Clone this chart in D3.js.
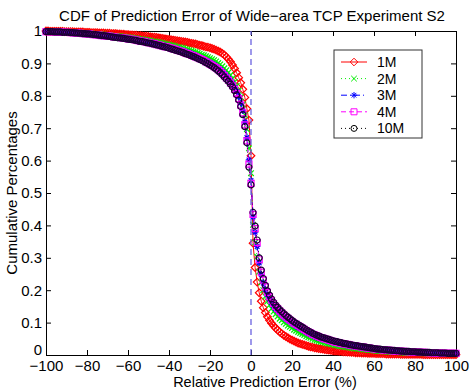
<!DOCTYPE html>
<html><head><meta charset="utf-8">
<script src="https://cdn.jsdelivr.net/npm/d3@7/dist/d3.min.js"></script>
<style>html,body{margin:0;padding:0;background:#fff;} text{font-family:"Liberation Sans",Arial,Helvetica,sans-serif;}</style>
</head><body><svg id="chart" width="474" height="392"></svg>
<script>
const titleText = "CDF of Prediction Error of Wide\u2212area TCP Experiment S2";
const xLabel = "Relative Prediction Error (%)";
const yLabel = "Cumulative Percentages";
const seriesNames = ["1M","2M","3M","4M","10M"];
const xTicks = [-100,-80,-60,-40,-20,0,20,40,60,80,100];
const yTicks = [0,0.1,0.2,0.3,0.4,0.5,0.6,0.7,0.8,0.9,1];
const yTickLabels = ["0","0.1","0.2","0.3","0.4","0.5","0.6","0.7","0.8","0.9","1"];
const xs = [-100,-99,-98,-97,-96,-95,-94,-93,-92,-91,-90,-89,-88,-87,-86,-85,-84,-83,-82,-81,
-80,-79,-78,-77,-76,-75,-74,-73,-72,-71,-70,-69,-68,-67,-66,-65,-64,-63,-62,-61,
-60,-59,-58,-57,-56,-55,-54,-53,-52,-51,-50,-49,-48,-47,-46,-45,-44,-43,-42,-41,
-40,-39,-38,-37,-36,-35,-34,-33,-32,-31,-30,-29,-28,-27,-26,-25,-24,-23,-22,-21,
-20,-19,-18,-17,-16,-15,-14,-13,-12,-11,-10,-9,-8,-7,-6,-5,-4,-3,-2,-1,0,
1,2,3,4,5,6,7,8,9,10,11,12,13,14,15,16,17,18,19,20,21,22,23,24,25,26,27,28,29,30,
31,32,33,34,35,36,37,38,39,40,41,42,43,44,45,46,47,48,49,50,51,52,53,54,55,56,57,58,59,60,
61,62,63,64,65,66,67,68,69,70,71,72,73,74,75,76,77,78,79,80,81,82,83,84,85,86,87,88,89,90,
91,92,93,94,95,96,97,98,99,100];
const s1M = [1.000,1.000,0.999,0.999,0.999,0.999,0.999,0.999,0.999,0.998,
0.998,0.998,0.998,0.998,0.997,0.997,0.997,0.997,0.997,0.996,
0.996,0.996,0.995,0.995,0.995,0.995,0.994,0.994,0.994,0.993,
0.993,0.993,0.992,0.992,0.992,0.991,0.991,0.990,0.990,0.989,
0.989,0.988,0.988,0.987,0.987,0.986,0.986,0.985,0.984,0.984,
0.983,0.982,0.981,0.981,0.980,0.979,0.978,0.977,0.976,0.975,
0.974,0.973,0.972,0.971,0.970,0.969,0.968,0.967,0.966,0.965,
0.963,0.962,0.961,0.960,0.958,0.956,0.955,0.953,0.951,0.950,
0.948,0.946,0.944,0.941,0.938,0.935,0.931,0.926,0.920,0.913,
0.905,0.895,0.884,0.871,0.856,0.840,0.820,0.795,0.760,0.725,
0.615,
0.345,0.270,0.225,0.192,0.166,0.146,0.131,0.118,0.107,0.098,
0.090,0.083,0.077,0.071,0.066,0.061,0.057,0.053,0.049,0.046,
0.043,0.040,0.037,0.035,0.033,0.031,0.029,0.027,0.025,0.024,
0.022,0.021,0.020,0.019,0.018,0.017,0.016,0.015,0.014,0.013,
0.012,0.012,0.011,0.011,0.010,0.010,0.009,0.009,0.008,0.008,
0.007,0.007,0.007,0.006,0.006,0.006,0.005,0.005,0.005,0.005,
0.004,0.004,0.004,0.004,0.004,0.003,0.003,0.003,0.003,0.003,
0.003,0.003,0.002,0.002,0.002,0.002,0.002,0.002,0.002,0.002,
0.002,0.002,0.002,0.001,0.001,0.001,0.001,0.001,0.001,0.001,
0.001,0.001,0.001,0.001,0.001,0.001,0.001,0.001,0.001,0.001];
const s2M = [0.999,0.999,0.998,0.998,0.998,0.998,0.998,0.998,0.997,0.997,
0.997,0.997,0.996,0.996,0.995,0.995,0.995,0.995,0.994,0.994,
0.993,0.993,0.992,0.991,0.991,0.991,0.990,0.989,0.989,0.988,
0.988,0.987,0.986,0.985,0.985,0.984,0.984,0.983,0.982,0.981,
0.981,0.980,0.979,0.978,0.977,0.976,0.975,0.974,0.973,0.972,
0.971,0.970,0.968,0.968,0.966,0.965,0.964,0.962,0.961,0.959,
0.958,0.956,0.955,0.953,0.951,0.950,0.948,0.947,0.944,0.943,
0.941,0.939,0.937,0.935,0.932,0.930,0.927,0.925,0.922,0.919,
0.916,0.913,0.910,0.906,0.901,0.897,0.891,0.885,0.879,0.872,
0.864,0.854,0.843,0.830,0.815,0.796,0.773,0.741,0.697,0.638,
0.561,
0.402,0.347,0.303,0.257,0.224,0.200,0.181,0.166,0.154,0.143,
0.134,0.126,0.119,0.112,0.107,0.101,0.096,0.091,0.087,0.083,
0.078,0.075,0.071,0.068,0.065,0.062,0.058,0.055,0.053,0.050,
0.047,0.045,0.043,0.041,0.040,0.038,0.036,0.035,0.033,0.032,
0.030,0.029,0.028,0.027,0.026,0.025,0.024,0.023,0.022,0.021,
0.020,0.020,0.019,0.018,0.017,0.017,0.016,0.015,0.015,0.014,
0.013,0.012,0.012,0.012,0.011,0.011,0.010,0.010,0.010,0.010,
0.009,0.009,0.008,0.008,0.007,0.007,0.007,0.007,0.007,0.007,
0.006,0.006,0.006,0.005,0.005,0.005,0.005,0.005,0.005,0.005,
0.005,0.004,0.004,0.004,0.004,0.004,0.004,0.003,0.003,0.003];
const s3M = [0.998,0.998,0.998,0.998,0.997,0.997,0.997,0.997,0.996,0.996,
0.996,0.996,0.995,0.995,0.994,0.994,0.994,0.994,0.993,0.993,
0.992,0.992,0.991,0.990,0.990,0.989,0.988,0.987,0.987,0.986,
0.985,0.984,0.983,0.983,0.982,0.981,0.981,0.980,0.979,0.978,
0.977,0.976,0.975,0.974,0.973,0.972,0.971,0.970,0.969,0.967,
0.966,0.965,0.963,0.962,0.960,0.959,0.958,0.956,0.955,0.953,
0.951,0.949,0.947,0.945,0.944,0.942,0.940,0.938,0.935,0.934,
0.932,0.929,0.927,0.924,0.921,0.919,0.916,0.913,0.909,0.907,
0.903,0.899,0.896,0.891,0.886,0.881,0.875,0.868,0.861,0.854,
0.846,0.837,0.826,0.813,0.797,0.778,0.754,0.719,0.671,0.602,
0.539,
0.426,0.379,0.335,0.284,0.248,0.222,0.202,0.186,0.173,0.162,
0.152,0.143,0.137,0.130,0.124,0.118,0.112,0.107,0.103,0.098,
0.093,0.089,0.085,0.082,0.078,0.074,0.071,0.067,0.064,0.061,
0.058,0.055,0.053,0.050,0.049,0.047,0.045,0.043,0.041,0.039,
0.038,0.037,0.035,0.034,0.032,0.031,0.030,0.029,0.028,0.027,
0.026,0.025,0.024,0.023,0.022,0.021,0.020,0.019,0.019,0.018,
0.017,0.016,0.016,0.015,0.014,0.014,0.013,0.013,0.012,0.012,
0.011,0.011,0.011,0.010,0.010,0.010,0.009,0.009,0.009,0.009,
0.008,0.008,0.008,0.007,0.007,0.007,0.007,0.006,0.006,0.006,
0.006,0.005,0.005,0.005,0.005,0.005,0.004,0.004,0.004,0.004];
const s4M = [0.998,0.998,0.998,0.998,0.997,0.997,0.997,0.997,0.996,0.996,
0.996,0.996,0.995,0.995,0.994,0.994,0.993,0.993,0.992,0.992,
0.991,0.991,0.990,0.989,0.989,0.988,0.987,0.986,0.986,0.985,
0.985,0.984,0.983,0.982,0.981,0.980,0.980,0.979,0.978,0.977,
0.976,0.975,0.974,0.973,0.972,0.970,0.969,0.968,0.967,0.965,
0.964,0.963,0.961,0.960,0.958,0.957,0.955,0.953,0.952,0.951,
0.949,0.947,0.945,0.943,0.941,0.939,0.937,0.935,0.932,0.930,
0.928,0.925,0.923,0.920,0.918,0.915,0.912,0.909,0.905,0.902,
0.898,0.894,0.890,0.886,0.881,0.875,0.869,0.862,0.855,0.848,
0.840,0.831,0.820,0.807,0.791,0.771,0.747,0.710,0.661,0.589,
0.530,
0.434,0.390,0.347,0.294,0.256,0.231,0.210,0.193,0.180,0.169,
0.159,0.150,0.143,0.136,0.130,0.124,0.118,0.113,0.108,0.103,
0.098,0.095,0.091,0.087,0.083,0.079,0.075,0.071,0.068,0.064,
0.062,0.059,0.057,0.054,0.052,0.050,0.048,0.046,0.044,0.042,
0.040,0.039,0.037,0.036,0.034,0.034,0.033,0.031,0.030,0.029,
0.028,0.027,0.026,0.025,0.024,0.023,0.022,0.021,0.020,0.019,
0.018,0.017,0.017,0.016,0.015,0.015,0.014,0.014,0.013,0.013,
0.012,0.012,0.011,0.011,0.011,0.010,0.010,0.010,0.009,0.009,
0.009,0.008,0.008,0.008,0.008,0.007,0.007,0.007,0.007,0.006,
0.006,0.006,0.006,0.006,0.005,0.005,0.005,0.005,0.005,0.005];
const s10M = [0.998,0.998,0.998,0.998,0.997,0.997,0.997,0.997,0.996,0.996,
0.996,0.996,0.995,0.995,0.994,0.994,0.993,0.993,0.992,0.992,
0.991,0.991,0.990,0.989,0.989,0.988,0.987,0.986,0.986,0.985,
0.984,0.983,0.982,0.981,0.980,0.979,0.979,0.978,0.977,0.976,
0.975,0.974,0.973,0.972,0.971,0.969,0.968,0.967,0.966,0.964,
0.963,0.962,0.960,0.959,0.957,0.956,0.954,0.952,0.951,0.949,
0.947,0.945,0.943,0.941,0.939,0.937,0.935,0.933,0.930,0.928,
0.926,0.923,0.921,0.918,0.915,0.912,0.909,0.906,0.902,0.899,
0.895,0.891,0.887,0.882,0.877,0.871,0.865,0.858,0.851,0.844,
0.836,0.827,0.816,0.803,0.787,0.767,0.742,0.705,0.655,0.580,
0.525,
0.440,0.398,0.355,0.300,0.262,0.236,0.215,0.198,0.185,0.173,
0.163,0.154,0.147,0.140,0.134,0.128,0.122,0.117,0.112,0.107,
0.102,0.098,0.094,0.090,0.086,0.082,0.078,0.074,0.071,0.067,
0.064,0.061,0.059,0.056,0.054,0.052,0.050,0.048,0.046,0.044,
0.042,0.041,0.039,0.038,0.036,0.035,0.034,0.032,0.031,0.030,
0.029,0.028,0.027,0.026,0.025,0.024,0.023,0.022,0.021,0.020,
0.019,0.018,0.018,0.017,0.016,0.016,0.015,0.015,0.014,0.014,
0.013,0.013,0.012,0.012,0.011,0.011,0.011,0.010,0.010,0.010,
0.009,0.009,0.009,0.008,0.008,0.008,0.008,0.007,0.007,0.007,
0.007,0.006,0.006,0.006,0.006,0.005,0.005,0.005,0.005,0.005];

const seriesValues = [s1M, s2M, s3M, s4M, s10M];
const colors = ["#ff0000","#00ee00","#0000ff","#ff00ff","#1a0033"];
const dashes = [null,"1,3","6,3,1,3","5,3","1,3"];
const markerTypes = ["diamond","x","star","square","circle"];

const svg = d3.select("#chart");
const L = 46, R = 456, T = 31, B = 355;
const x = d3.scaleLinear().domain([-100,100]).range([L,R]);
const y = d3.scaleLinear().domain([0,1]).range([B,T]);

function markerPath(type){
  switch(type){
    case "diamond": return "M0,-3.8L3.8,0L0,3.8L-3.8,0Z";
    case "x": return "M-2.8,-2.8L2.8,2.8M-2.8,2.8L2.8,-2.8";
    case "star": return "M-3.2,0L3.2,0M0,-3.2L0,3.2M-2.3,-2.3L2.3,2.3M-2.3,2.3L2.3,-2.3";
    case "square": return "M-3,-3h6v6h-6Z";
    case "circle": return "M3,0A3,3 0 1,1 -3,0A3,3 0 1,1 3,0Z";
  }
}

svg.append("rect").attr("x",L).attr("y",T).attr("width",R-L).attr("height",B-T)
  .attr("fill","#fff").attr("stroke","none");

const fontAx = 15;
const gx = svg.append("g").attr("transform",`translate(0,${B})`)
  .call(d3.axisBottom(x).tickValues(xTicks).tickSize(-5).tickPadding(5).tickSizeOuter(0));
const gxt = svg.append("g").attr("transform",`translate(0,${T})`)
  .call(d3.axisTop(x).tickValues(xTicks).tickSize(-5).tickFormat("").tickSizeOuter(0));
const gy = svg.append("g").attr("transform",`translate(${L},0)`)
  .call(d3.axisLeft(y).tickValues(yTicks).tickSize(-5).tickPadding(4).tickSizeOuter(0)
    .tickFormat((d,i)=>yTickLabels[i]));
const gyr = svg.append("g").attr("transform",`translate(${R},0)`)
  .call(d3.axisRight(y).tickValues(yTicks).tickSize(-5).tickFormat("").tickSizeOuter(0));
[gx,gxt,gy,gyr].forEach(g=>{
  g.select(".domain").attr("stroke","#000").attr("stroke-width",1);
  g.selectAll(".tick line").attr("stroke","#000").attr("stroke-width",1);
  g.selectAll("text").attr("font-size",fontAx).attr("fill","#000")
   .attr("font-family","'Liberation Sans',Arial,Helvetica,sans-serif");
});
// the "0" y label sits slightly above the corner, as in the reference
gy.selectAll(".tick").filter(d=>d===0).select("text").attr("dy","-0.05em");

const line = d3.line().x((d,i)=>x(xs[i])).y(d=>y(d));
seriesValues.forEach((vals,si)=>{
  const g = svg.append("g");
  g.append("path").attr("d",line(vals)).attr("fill","none")
    .attr("stroke",colors[si]).attr("stroke-width",1)
    .attr("stroke-dasharray",dashes[si]);
  g.selectAll("path.m").data(vals).join("path").attr("class","m")
    .attr("d",markerPath(markerTypes[si]))
    .attr("transform",(d,i)=>`translate(${x(xs[i])},${y(d)})`)
    .attr("fill","none").attr("stroke",colors[si]).attr("stroke-width",1.2);
});

svg.append("line").attr("x1",x(0)).attr("x2",x(0)).attr("y1",y(0)).attr("y2",y(1))
  .attr("stroke","#6b63e0").attr("stroke-width",1.3).attr("stroke-dasharray","6,4");

svg.append("text").attr("x",(L+R)/2+1).attr("y",21).attr("text-anchor","middle")
  .attr("font-size",15).attr("fill","#000").text(titleText);
svg.append("text").attr("x",(L+R)/2+14).attr("y",387).attr("text-anchor","middle")
  .attr("font-size",14.5).attr("fill","#000").text(xLabel);
svg.append("text").attr("transform",`translate(17,${(T+B)/2}) rotate(-90)`)
  .attr("text-anchor","middle").attr("font-size",15).attr("fill","#000").text(yLabel);

const lg = svg.append("g");
lg.append("rect").attr("x",334).attr("y",50).attr("width",88).attr("height",88)
  .attr("fill","#fff").attr("stroke","#333").attr("stroke-width",1);
seriesNames.forEach((name,i)=>{
  const yy = 62 + i*16.6;
  lg.append("line").attr("x1",341).attr("x2",367).attr("y1",yy).attr("y2",yy)
    .attr("stroke",i===4?"#000":colors[i]).attr("stroke-width",1).attr("stroke-dasharray",dashes[i]);
  lg.append("path").attr("d",markerPath(markerTypes[i])).attr("transform",`translate(354,${yy})`)
    .attr("fill","none").attr("stroke",i===4?"#000":colors[i]).attr("stroke-width",1);
  lg.append("text").attr("x",377).attr("y",yy).attr("dy","0.36em").attr("font-size",14)
    .attr("fill","#000").text(name);
});
</script></body></html>
